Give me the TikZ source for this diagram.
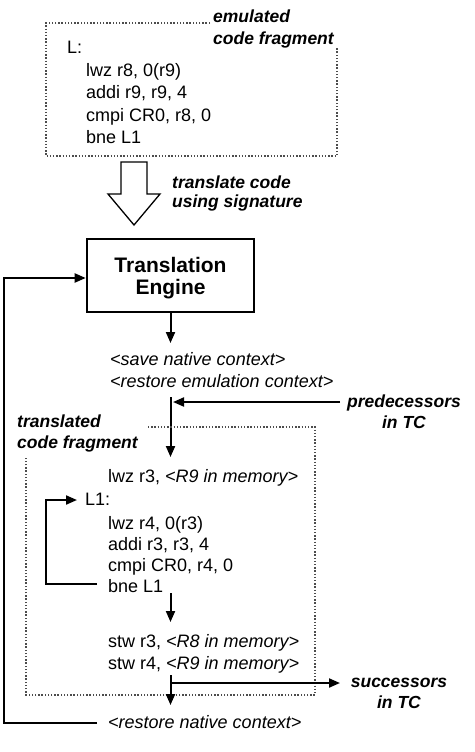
\documentclass[tikz,border=0pt]{standalone}
\usepackage{fontspec}
\setmainfont{Liberation Sans}
\usetikzlibrary{arrows.meta}
\begin{document}
\begin{tikzpicture}[x=1pt,y=-1pt,
  code/.style={anchor=base west, inner sep=0pt, font=\fontsize{18}{21}\selectfont},
  lab/.style={anchor=base west, inner sep=0pt, font=\fontsize{17.5}{21}\selectfont\bfseries\itshape},
  labc/.style={anchor=base, inner sep=0pt, font=\fontsize{17.5}{21}\selectfont\bfseries\itshape},
  arr/.style={line width=2pt, -{Triangle[length=11pt,width=9pt]}},
  ln/.style={line width=2pt},
  dotbox/.style={line width=1.4pt, dash pattern=on 1.4pt off 1.8pt, black!70}]
\useasboundingbox (0,0) rectangle (474,752);

% emulated code fragment
\draw[dotbox] (210,23) -- (46,23) -- (46,156) -- (337,156) -- (337,47);
\node[lab] (em1) at (213,23) {emulated};
\node[lab] (em2) at (213,45) {code fragment};
\node[code] (eL) at (67,54) {L:};
\node[code] (e1) at (86,77) {lwz r8, 0(r9)};
\node[code] (e2) at (86,99) {addi r9, r9, 4};
\node[code] (e3) at (86,121) {cmpi CR0, r8, 0};
\node[code] (e4) at (86,143) {bne L1};

% hollow arrow
\draw[line width=1.3pt, line join=miter] (121,162) -- (147,162) -- (147,194) -- (160,194) -- (134,225) -- (108,194) -- (121,194) -- cycle;
\node[lab] (tr1) at (172,188) {translate code};
\node[lab] (tr2) at (172,207) {using signature};

% translation engine
\node[draw, line width=2.6pt, minimum width=167pt, minimum height=73pt, inner sep=0pt] (TE) at (170.5,275.5) {};
\node[labc, font=\fontsize{21}{24}\selectfont\bfseries] (te1) at (170.5,272) {Translation};
\node[labc, font=\fontsize{21}{24}\selectfont\bfseries] (te2) at (170.5,294) {Engine};

\node[code] (save) at (110,365) {\textit{<save native context>}};
\node[code] (rest) at (110,387) {\textit{<restore emulation context>}};

\coordinate (c1) at (170.5,343);
\draw[arr] (TE.south) -- (c1);

% predecessors
\node[labc] (pred1) at (404,407) {predecessors};
\node[labc] (pred2) at (404,428) {in TC};
\coordinate (p0) at (340,402);
\coordinate (p1) at (173,402);
\draw[arr] (p0) -- (p1);
\coordinate (v0) at (170.5,397);
\coordinate (v1) at (170.5,457);
\draw[arr] (v0) -- (v1);

% translated code fragment
\draw[dotbox] (148,427) -- (315,427) -- (315,695) -- (26,695) -- (26,456);
\node[lab] (tc1) at (17,427) {translated};
\node[lab] (tc2) at (17,448) {code fragment};

\node[code] (t1) at (108,482) {lwz r3, \textit{<R9 in memory>}};
\node[code] (tL) at (85,505) {L1:};
\node[code] (t2) at (108,529) {lwz r4, 0(r3)};
\node[code] (t3) at (108,550) {addi r3, r3, 4};
\node[code] (t4) at (108,571) {cmpi CR0, r4, 0};
\node[code] (t5) at (108,592) {bne L1};

% loop
\coordinate (l0) at (97,584);
\coordinate (l3) at (77,500);
\draw[ln, -{Triangle[length=11pt,width=9pt]}] (l0) -- (46,584) -- (46,500) -- (l3);

\coordinate (d0) at (170.5,593);
\coordinate (d1) at (170.5,622);
\draw[arr] (d0) -- (d1);

\node[code] (s1) at (108,647) {stw r3, \textit{<R8 in memory>}};
\node[code] (s2) at (108,669) {stw r4, \textit{<R9 in memory>}};

\coordinate (f0) at (170.5,675);
\coordinate (f1) at (170.5,705);
\draw[arr] (f0) -- (f1);
\coordinate (g0) at (170.5,683);
\coordinate (g1) at (340,683);
\draw[arr] (g0) -- (g1);

\node[labc] (suc1) at (399,687) {successors};
\node[labc] (suc2) at (399,708) {in TC};

\node[code] (rn) at (108,728) {\textit{<restore native context>}};

% feedback loop
\coordinate (b0) at (97,723);
\draw[ln, -{Triangle[length=11pt,width=9pt]}] (b0) -- (4,723) -- (4,278) -- (TE.west |- 0,278);
\end{tikzpicture}
\end{document}
